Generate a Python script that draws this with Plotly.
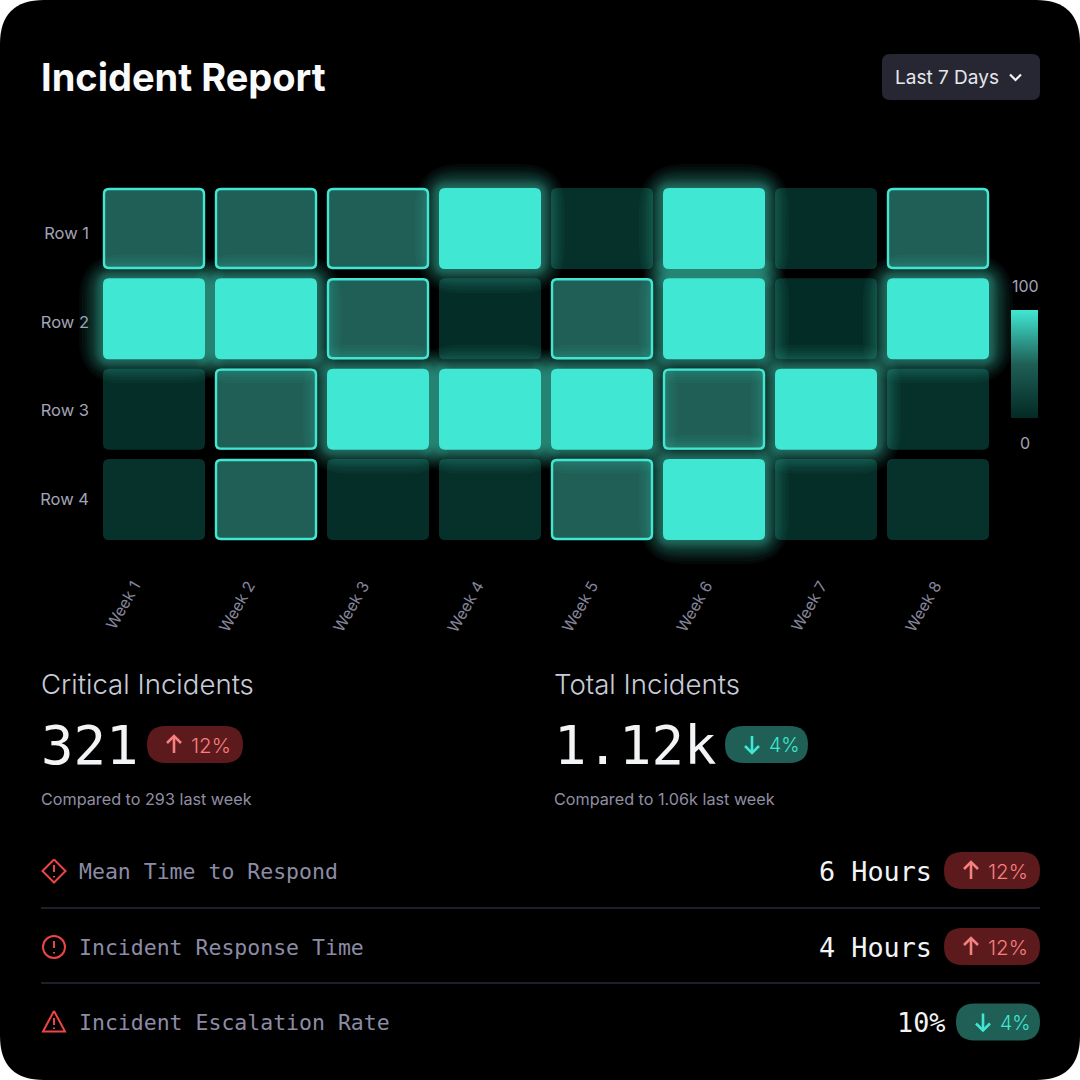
import plotly.graph_objects as go
from plotly.colors import sample_colorscale

# heatmap data
weeks = ["Week 1", "Week 2", "Week 3", "Week 4", "Week 5", "Week 6", "Week 7", "Week 8"]
rows = ["Row 1", "Row 2", "Row 3", "Row 4"]
row1 = [50, 50, 50, 100, 6, 100, 4, 50]
row2 = [100, 100, 50, 3, 50, 100, 2, 100]
row3 = [4, 50, 100, 100, 100, 50, 100, 6]
row4 = [8, 50, 4, 6, 50, 100, 4, 7]
values = [row1, row2, row3, row4]

# tick labels do not sit exactly on the cell centres in the original
week_ticks = [-0.176, 0.846, 1.867, 2.889, 3.91, 4.932, 5.954, 6.975]
row_ticks = [0.05, 1.035, 2.01, 2.995]

TEAL = "#40e8d3"
TEAL_DARK = "#1f5f56"
RED_BG = "#5c1a1d"
RED_TEXT = "#f67f7f"
RED_ICON = "#ef4444"
colorscale = [[0, "#032a24"], [0.5, TEAL_DARK], [1, TEAL]]

SIZE = 1080
COL_PX = 112.0
ROW_PX = 90.33
CELL_W = 102.0
CELL_H = 81.0
PLOT_L = 98.0
PLOT_T = 183.33
SANS = "Inter"
MONO = "DejaVu Sans Mono"


def X(px):
    return px / SIZE


def Y(py):
    return 1 - py / SIZE


def rounded(x0, y0, x1, y1, rx, ry=None):
    ry = rx if ry is None else ry
    return (f"M{x0 + rx},{y0} L{x1 - rx},{y0} Q{x1},{y0} {x1},{y0 + ry} "
            f"L{x1},{y1 - ry} Q{x1},{y1} {x1 - rx},{y1} L{x0 + rx},{y1} "
            f"Q{x0},{y1} {x0},{y1 - ry} L{x0},{y0 + ry} Q{x0},{y0} {x0 + rx},{y0} Z")


def box(x0, y0, x1, y1, r, fill, layer="below"):
    return dict(type="path", xref="paper", yref="paper", layer=layer, line_width=0, fillcolor=fill,
                path=rounded(X(x0), Y(y0), X(x1), Y(y1), X(r), -r / SIZE))


def stroke(d, color, width=2):
    # d is a list of pixel points, drawn as one open line
    path = "M" + " L".join(f"{X(a)},{Y(b)}" for a, b in d)
    return dict(type="path", xref="paper", yref="paper", layer="above", path=path,
                line=dict(color=color, width=width))


def cell(col, row, grow=0, r=6):
    hw = (CELL_W / 2 + grow) / COL_PX
    hh = (CELL_H / 2 + grow) / ROW_PX
    return rounded(col - hw, row - hh, col + hw, row + hh, r / COL_PX, r / ROW_PX)


def glow(col, row, grow):
    # data shapes get clipped at the plot edge, so the halo goes on paper coordinates
    cx = PLOT_L + (col + 0.5) * COL_PX
    cy = PLOT_T + (row + 0.5) * ROW_PX
    hw = CELL_W / 2 + grow
    hh = CELL_H / 2 + grow
    return box(cx - hw, cy - hh, cx + hw, cy + hh, 6 + grow * 1.6, "rgba(64,232,211,0.04)", "above")


def text(s, x, y, size, color, anchor="left", font=SANS, weight=400):
    return dict(text=s, x=X(x), y=Y(y), xref="paper", yref="paper", xanchor=anchor, yanchor="middle",
                showarrow=False, borderpad=0, borderwidth=0,
                font=dict(family=font, size=size, color=color, weight=weight))


def badge(x0, x1, yc, up, label, arrow_x, text_x):
    bg, fg = (RED_BG, RED_TEXT) if up else (TEAL_DARK, TEAL)
    tip, end = (yc - 8.5, yc + 8.5) if up else (yc + 8.5, yc - 8.5)
    wing = tip + 7 if up else tip - 7
    shapes.append(box(x0, yc - 18.5, x1, yc + 18.5, 18.5, bg))
    shapes.append(stroke([(arrow_x, end), (arrow_x, tip)], fg, 2.6))
    shapes.append(stroke([(arrow_x - 7, wing), (arrow_x, tip), (arrow_x + 7, wing)], fg, 2.6))
    annotations.append(text(label, text_x, yc + 0.5, 20.5 if up else 19.5, fg, weight=300))


shapes = []
annotations = []

# card and dropdown
shapes.append(box(0, 0, 1080, 1080, 44, "#000000"))
shapes.append(box(882, 54, 1040, 100, 8, "#272733"))
shapes.append(stroke([(1010, 74.5), (1015.5, 80), (1021, 74.5)], "#f3f4f6", 2.2))
annotations.append(text("Incident Report", 41, 77, 38, "#f9fafb", weight=700))
annotations.append(text("Last 7 Days", 895, 77.5, 19, "#e5e7eb"))

# cells: dim and mid first, then the glow, then bright ones and the outlines
flat = [(c, r, values[r][c]) for r in range(4) for c in range(8)]
for c, r, v in flat:
    if v < 100:
        shapes.append(dict(type="path", path=cell(c, r), xref="x", yref="y", layer="above", line_width=0,
                           fillcolor=sample_colorscale(colorscale, v / 100)[0]))
for c, r, v in flat:
    if v == 100:
        for g in [1, 2, 3, 4, 5, 6, 7, 8, 9, 10, 12, 14, 16, 18, 21, 24]:
            shapes.append(glow(c, r, g))
for c, r, v in flat:
    if v == 100:
        shapes.append(dict(type="path", path=cell(c, r), xref="x", yref="y", layer="above", line_width=0,
                           fillcolor=sample_colorscale(colorscale, v / 100)[0]))
    elif v == 50:
        shapes.append(dict(type="path", path=cell(c, r, -1, 5), xref="x", yref="y", layer="above",
                           line=dict(color=TEAL, width=2.4)))

annotations.append(text("100", 1025, 286, 16, "#a3a3b8", "center"))
annotations.append(text("0", 1025, 443, 16, "#a3a3b8", "center"))

# stats
annotations.append(text("Critical Incidents", 41, 684, 27.6, "#c9ccd8", weight=300))
annotations.append(text("321", 41, 745, 54, "#f3f4f6", font=MONO))
annotations.append(text("Compared to 293 last week", 41, 799, 16.2, "#8f8fa3"))
badge(147, 243, 744.5, True, "12%", 174, 191)

annotations.append(text("Total Incidents", 554, 684, 27.6, "#c9ccd8", weight=300))
annotations.append(text("1.12k", 554, 745, 54, "#f3f4f6", font=MONO))
annotations.append(text("Compared to 1.06k last week", 554, 799, 16.2, "#8f8fa3"))
badge(725, 808, 744.5, False, "4%", 752, 769)

# bottom list
annotations.append(text("Mean Time to Respond", 79, 871, 21.5, "#8c8ca6", font=MONO))
annotations.append(text("Incident Response Time", 79, 947, 21.5, "#8c8ca6", font=MONO))
annotations.append(text("Incident Escalation Rate", 79, 1022, 21.5, "#8c8ca6", font=MONO))
annotations.append(text("6 Hours", 932, 871, 26.8, "#f3f4f6", "right", MONO))
annotations.append(text("4 Hours", 932, 947, 26.8, "#f3f4f6", "right", MONO))
annotations.append(text("10%", 945, 1022, 26.8, "#f3f4f6", "right", MONO))
badge(944, 1040, 870.5, True, "12%", 971, 988)
badge(944, 1040, 946.5, True, "12%", 971, 988)
badge(956, 1040, 1022, False, "4%", 983, 1000)

for yy in [908, 983]:
    shapes.append(stroke([(41, yy), (1040, yy)], "#2a2a35", 1.5))

# icons
shapes.append(stroke([(54, 859.5), (65.5, 871), (54, 882.5), (42.5, 871), (54, 859.5)], RED_ICON))
shapes.append(stroke([(54, 865), (54, 872)], RED_ICON))
shapes.append(stroke([(54, 876), (54, 877.5)], RED_ICON))
shapes.append(dict(type="circle", xref="paper", yref="paper", x0=X(43), x1=X(65), y0=Y(936), y1=Y(958),
                   layer="above", line=dict(color=RED_ICON, width=2)))
shapes.append(stroke([(54, 941), (54, 948)], RED_ICON))
shapes.append(stroke([(54, 952), (54, 953.5)], RED_ICON))
shapes.append(stroke([(54, 1011), (65, 1031.5), (43, 1031.5), (54, 1011)], RED_ICON))
shapes.append(stroke([(54, 1018), (54, 1025)], RED_ICON))
shapes.append(stroke([(54, 1027.5), (54, 1029)], RED_ICON))

fig = go.Figure()
# cells get covered by the rounded shapes, the wide gaps keep the square corners hidden
fig.add_trace(go.Heatmap(z=values, x=list(range(8)), y=list(range(4)), zmin=0, zmax=100,
                         colorscale=colorscale, xgap=24, ygap=24, hoverongaps=False,
                         colorbar=dict(thickness=27, thicknessmode="pixels", len=108, lenmode="pixels",
                                       x=X(1011), xanchor="left", xpad=0, y=Y(364), yanchor="middle", ypad=0,
                                       outlinewidth=0, borderwidth=0, ticks="", showticklabels=False)))
fig.update_xaxes(domain=[X(PLOT_L), X(PLOT_L + 8 * COL_PX)], range=[-0.5, 7.5], tickmode="array", tickvals=week_ticks,
                 ticktext=weeks, tickangle=-60, showgrid=False, zeroline=False, showline=False, ticks="",
                 ticklabelstandoff=28, tickfont=dict(family=SANS, size=15.6, color="#85859a"))
fig.update_yaxes(domain=[Y(PLOT_T + 4 * ROW_PX), Y(PLOT_T)], range=[3.5, -0.5], tickmode="array", tickvals=row_ticks,
                 ticktext=rows, showgrid=False, zeroline=False, showline=False, ticks="", ticklabelstandoff=8,
                 tickfont=dict(family=SANS, size=16.5, color="#a3a3b8"))
fig.update_layout(width=SIZE, height=SIZE, margin=dict(l=0, r=0, t=0, b=0, pad=0), paper_bgcolor="#ffffff",
                  plot_bgcolor="rgba(0,0,0,0)", shapes=shapes, annotations=annotations, showlegend=False)
fig.write_html("out.html", config=dict(displayModeBar=False),
               post_script="document.body.style.margin='0';document.body.style.overflow='hidden';")
